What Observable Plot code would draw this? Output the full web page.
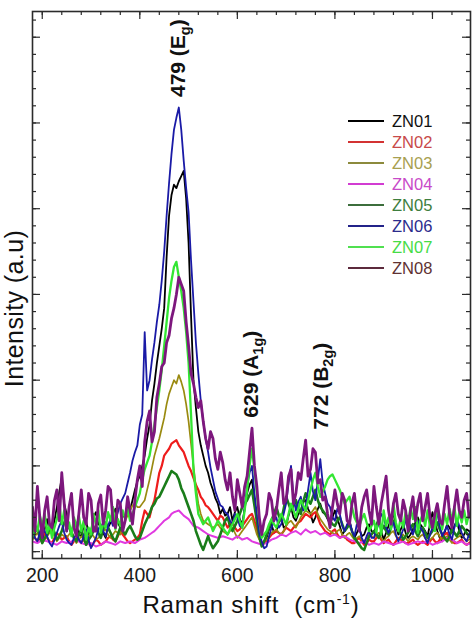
<!DOCTYPE html>
<html>
<head>
<meta charset="utf-8">
<script src="https://cdn.jsdelivr.net/npm/d3@7"></script>
<script src="https://cdn.jsdelivr.net/npm/@observablehq/plot@0.6"></script>
<style>
  html, body { margin: 0; padding: 0; background: #fff; }
  #chart { width: 474px; height: 621px; }
  svg text { font-family: "Liberation Sans", Arial, sans-serif; }
</style>
</head>
<body>
<div id="chart"></div>
<script>
// Raman shift sampling grid (cm^-1), 180 to 1080 every 5
const shifts = d3.range(180, 1081, 5);

// Intensities (a.u.), one row of 20 samples per 100 cm^-1
const zn01 = [
  0.8,1.1,1.4,0.7,0.6,1.3,1.9,1.2,1.1,1.8, 2.6,3.5,4.3,2.8,2.2,1.4,1.0,1.9,1.6,1.0,
  0.9,1.5,1.8,1.0,1.2,2.0,2.3,1.6,1.5,1.1, 0.8,1.4,1.7,2.2,2.5,1.7,1.4,2.1,2.0,2.6,
  2.4,3.0,3.6,4.1,4.4,5.0,5.6,6.6,7.4,8.8, 9.8,11.0,12.0,13.0,14.2,17.2,19.6,20.8,21.4,21.2,
  21.6,21.9,22.2,20.6,18.0,13.8,10.0,8.4,7.0,6.2, 5.6,5.0,4.6,4.0,3.6,3.1,2.8,2.2,2.5,2.1,
  2.2,2.6,1.8,2.3,2.6,1.9,1.6,2.5,3.4,3.9, 4.2,3.0,1.8,0.9,0.4,0.6,0.8,1.3,1.6,1.1,
  1.2,1.7,2.0,1.4,1.5,2.1,2.6,2.0,1.8,2.2, 2.4,2.9,3.0,2.5,2.2,1.7,2.0,2.5,2.8,2.3,
  2.2,1.9,1.6,2.0,2.4,1.9,1.5,1.0,1.2,1.5, 1.8,1.2,0.8,1.1,1.4,0.9,1.0,1.4,1.6,1.2,
  1.1,1.6,1.9,1.2,0.7,1.1,1.5,1.9,2.2,1.5, 1.0,1.3,1.6,1.1,0.8,1.0,1.3,1.7,2.0,1.6,
  1.4,1.2,0.9,1.6,2.3,1.7,1.2,0.8,0.6,1.1, 1.6,1.4,1.1,1.5,1.8,1.2,0.8,1.0,1.3,1.2,
  1.0
];
const zn02 = [
  1.0,0.8,0.6,0.9,1.2,1.0,0.8,0.6,0.5,0.8, 1.1,0.9,0.7,0.8,0.9,0.6,0.4,0.6,0.8,0.7,
  0.5,0.7,0.9,0.5,0.3,0.5,0.7,0.6,0.4,0.5, 0.6,0.8,0.9,0.7,0.6,0.9,1.2,1.0,0.8,0.6,
  0.5,0.6,0.7,0.8,1.0,1.8,2.4,2.2,2.0,2.6, 3.0,3.8,4.6,5.0,5.6,5.8,6.0,6.3,6.4,6.5,
  6.2,6.0,5.8,5.4,5.0,4.7,4.3,3.9,3.6,3.2, 3.0,2.7,2.6,2.4,2.2,2.0,1.8,2.1,2.0,1.7,
  1.4,1.6,1.7,1.4,1.2,1.3,1.5,1.7,1.9,2.1, 2.2,1.8,1.3,0.8,0.4,0.5,0.6,0.8,1.0,1.1,
  1.2,1.1,1.0,1.2,1.4,1.3,1.2,1.4,1.5,1.7, 1.8,2.0,2.2,2.1,2.0,2.2,2.3,2.0,1.6,1.4,
  1.2,1.1,1.0,1.2,1.3,1.0,0.8,0.9,0.9,0.7, 0.6,0.5,0.5,0.7,0.8,0.6,0.4,0.5,0.7,0.6,
  0.6,0.8,0.9,0.7,0.5,0.6,0.7,0.5,0.4,0.6, 0.8,0.7,0.6,0.5,0.5,0.6,0.7,0.5,0.4,0.5,
  0.6,0.5,0.4,0.6,0.8,0.6,0.5,0.7,0.9,1.0, 1.1,0.8,0.6,0.5,0.5,0.6,0.7,0.5,0.4,0.5,
  0.6
];
const zn03 = [
  0.7,0.9,1.1,0.8,0.5,0.7,0.9,1.1,1.3,0.9, 0.6,0.8,1.0,0.9,0.8,1.0,1.2,0.8,0.5,0.7,
  0.9,0.7,0.6,0.9,1.1,0.9,0.7,0.8,1.0,1.2, 1.3,1.0,0.8,1.0,1.2,1.1,1.0,1.4,1.8,2.1,
  2.4,2.7,2.8,2.6,2.6,2.8,3.0,3.6,4.2,4.9, 5.6,6.1,6.6,7.2,7.8,8.6,9.2,9.6,10.0,9.8,
  10.3,9.9,9.4,8.6,7.6,6.3,5.0,3.8,2.8,2.2, 1.8,1.7,1.6,1.5,1.4,1.5,1.6,1.4,1.2,1.1,
  1.0,1.2,1.4,1.1,0.8,1.0,1.2,1.4,1.6,1.8, 2.0,1.5,1.0,0.7,0.5,0.6,0.7,0.9,1.1,1.2,
  1.3,1.1,1.0,1.2,1.5,1.7,1.8,1.6,1.4,1.7, 2.0,2.2,2.4,2.3,2.2,2.4,2.6,2.2,1.9,1.7,
  1.5,1.3,1.2,1.1,1.0,1.2,1.3,1.0,0.8,1.0, 1.1,0.9,0.7,0.8,0.9,0.7,0.6,0.8,1.0,0.9,
  0.8,1.0,1.1,0.8,0.6,0.8,0.9,1.1,1.2,0.9, 0.7,0.9,1.0,0.8,0.6,0.8,0.9,0.8,0.7,0.9,
  1.0,0.8,0.6,0.7,0.8,1.0,1.1,0.9,0.7,0.8, 0.9,0.7,0.5,0.7,0.8,0.9,1.0,0.8,0.6,0.7,
  0.8
];
const zn04 = [
  0.6,0.55,0.5,0.6,0.7,0.65,0.6,0.55,0.5,0.45, 0.4,0.5,0.6,0.55,0.5,0.55,0.6,0.65,0.7,0.6,
  0.5,0.45,0.4,0.45,0.5,0.4,0.3,0.35,0.4,0.5, 0.6,0.55,0.5,0.45,0.4,0.5,0.6,0.55,0.5,0.55,
  0.6,0.55,0.5,0.6,0.7,0.75,0.8,0.9,1.0,1.1, 1.2,1.35,1.5,1.65,1.8,1.9,2.0,2.2,2.3,2.35,
  2.4,2.25,2.1,2.0,1.9,1.7,1.5,1.45,1.4,1.3, 1.2,1.1,1.0,0.95,0.9,0.85,0.8,0.85,0.9,0.85,
  0.8,0.75,0.7,0.8,0.9,0.8,0.7,0.75,0.8,0.7, 0.6,0.55,0.5,0.45,0.4,0.45,0.5,0.6,0.7,0.75,
  0.8,0.9,1.0,0.95,0.9,1.0,1.1,1.15,1.2,1.1, 1.0,1.15,1.3,1.2,1.1,1.15,1.2,1.1,1.0,1.05,
  1.1,1.0,0.9,0.95,1.0,0.9,0.8,0.85,0.9,0.8, 0.7,0.65,0.6,0.55,0.5,0.55,0.6,0.5,0.4,0.45,
  0.5,0.45,0.4,0.5,0.6,0.55,0.5,0.45,0.4,0.45, 0.5,0.55,0.6,0.5,0.4,0.45,0.5,0.55,0.6,0.55,
  0.5,0.55,0.6,0.5,0.4,0.45,0.5,0.55,0.6,0.7, 0.8,0.75,0.7,0.6,0.5,0.55,0.6,0.5,0.4,0.45,
  0.5
];
const zn05 = [
  0.8,1.2,1.4,0.9,0.5,0.8,1.0,1.4,1.6,1.1, 0.7,0.9,1.2,1.7,2.0,1.5,1.1,0.8,0.6,1.0,
  1.3,0.8,0.4,0.7,0.9,1.2,1.5,1.1,0.8,1.3, 1.7,1.4,1.1,0.8,0.6,1.0,1.4,1.2,1.0,1.3,
  1.5,1.2,0.9,0.7,0.8,1.2,1.6,1.9,2.2,2.6, 2.8,3.1,3.2,3.5,3.8,4.1,4.4,4.7,4.6,4.5,
  4.2,3.7,3.4,3.0,2.6,2.2,1.8,1.2,0.8,0.4, 0.1,0.5,0.9,0.5,0.2,0.4,0.6,1.0,1.4,1.8,
  2.0,1.5,1.2,1.5,1.8,2.2,2.6,2.8,3.0,3.3, 3.6,2.7,1.8,0.9,0.3,0.6,1.0,1.4,1.8,2.2,
  2.6,2.1,1.8,2.5,3.2,2.8,2.4,2.7,3.0,2.5, 2.2,2.9,3.4,3.0,2.8,3.2,3.6,3.0,2.6,2.4,
  2.2,2.0,1.8,1.6,1.5,1.8,2.0,1.6,1.2,1.4, 1.6,1.2,0.8,0.6,0.4,0.2,0.1,0.5,0.9,1.0,
  1.2,1.0,0.8,1.2,1.5,1.2,1.0,1.4,1.8,1.5, 1.3,1.0,0.7,0.9,1.1,1.4,1.6,1.2,0.9,1.2,
  1.4,1.1,0.8,1.0,1.2,1.5,1.7,1.3,1.0,0.8, 0.6,0.9,1.3,1.1,0.9,1.2,1.5,1.3,1.1,0.9,
  0.8
];
const zn06 = [
  1.2,0.8,0.6,1.1,1.5,1.2,0.9,0.5,0.3,0.7, 1.1,1.5,1.8,1.1,0.7,0.5,0.4,0.8,1.0,0.7,
  0.5,0.9,1.3,0.7,0.2,0.5,0.8,1.3,1.6,1.2, 0.9,1.5,1.9,1.5,1.8,2.3,2.8,3.1,3.4,4.0,
  4.6,5.3,5.8,6.2,7.4,8.0,12.8,9.4,10.0,11.2, 12.2,13.4,14.4,15.8,17.5,19.6,21.5,23.2,24.6,25.3,
  25.9,24.6,22.8,21.2,19.8,17.0,14.6,12.2,10.4,8.8, 7.6,6.6,5.8,4.9,4.2,3.5,3.1,2.7,2.6,2.3,
  2.2,1.8,1.6,2.2,2.0,1.5,1.4,2.6,3.8,4.6, 5.0,3.4,2.2,1.1,0.6,0.2,0.3,0.9,1.4,1.8,
  2.0,1.4,1.6,2.2,2.8,4.0,5.0,3.2,2.4,2.9, 3.2,2.4,2.6,3.6,4.6,3.5,3.0,4.2,5.4,4.0,
  3.4,2.8,2.6,2.0,1.8,2.5,2.2,1.5,1.2,1.6, 1.8,1.2,0.9,1.6,1.4,0.8,0.5,0.9,1.2,0.8,
  0.8,1.3,1.6,2.2,2.0,1.4,1.1,1.5,1.7,1.0, 0.6,0.9,1.3,1.8,2.1,1.4,1.0,1.5,1.8,1.4,
  1.2,0.8,0.5,1.0,1.4,1.9,2.2,1.5,0.9,1.2, 1.5,1.0,0.7,1.4,1.9,1.5,1.1,0.8,0.6,1.0,
  1.3
];
const zn07 = [
  0.9,1.6,1.2,2.1,1.5,2.2,1.1,1.6,0.8,1.4, 1.9,2.8,1.6,2.4,1.2,1.7,0.9,2.0,1.4,2.1,
  1.2,1.8,0.7,1.4,1.0,2.2,1.6,2.4,1.1,1.7, 1.4,2.3,1.8,2.6,1.3,1.9,1.5,2.4,1.9,2.5,
  1.8,2.2,2.6,3.0,3.4,4.2,4.8,5.2,5.6,6.4, 7.4,8.4,9.4,10.6,12.0,13.4,14.8,15.8,16.6,16.9,
  16.0,15.2,14.2,12.8,11.0,8.0,4.8,3.4,2.2,1.9, 1.6,1.8,2.0,1.6,1.2,1.5,1.8,1.6,1.4,1.2,
  1.0,1.3,1.6,1.9,2.2,1.8,1.4,2.4,3.6,5.0, 6.0,4.8,3.4,1.8,0.8,1.0,1.2,1.6,1.9,1.6,
  1.4,1.8,2.2,1.9,1.6,2.2,2.8,2.4,2.0,2.5, 3.0,2.7,2.4,3.0,3.6,4.2,4.6,3.8,3.2,3.5,
  3.8,4.2,4.4,4.5,4.2,3.9,3.6,3.2,2.8,3.0, 3.2,2.6,2.0,1.7,1.5,1.9,2.2,1.7,1.2,1.5,
  1.8,1.1,2.2,1.0,2.4,1.5,2.0,1.3,2.8,1.7, 1.2,2.0,1.4,2.3,1.6,2.6,1.9,2.6,1.1,1.8,
  2.2,1.5,2.4,1.4,1.9,1.2,2.7,2.0,1.3,2.2, 1.6,2.5,1.8,2.6,1.5,2.3,1.7,2.4,1.6,2.2,
  2.1
];
const zn08 = [
  2.6,1.2,3.8,2.0,0.8,2.4,3.2,1.6,1.4,3.0, 3.6,1.8,4.6,2.8,1.2,2.6,3.4,1.4,0.9,2.2,
  3.6,2.0,1.6,3.4,3.0,1.2,1.2,2.8,3.3,1.6, 2.4,3.8,3.6,1.8,1.4,3.0,2.8,1.2,1.8,3.2,
  2.4,1.6,3.0,4.2,5.0,3.8,6.4,7.6,8.2,6.4, 7.0,9.0,9.8,10.8,11.0,12.2,12.6,13.6,14.2,15.0,
  16.0,15.6,15.2,13.4,12.0,10.4,9.8,9.0,8.4,8.8, 7.6,6.6,6.0,7.0,6.6,5.4,4.8,5.8,5.2,4.2,
  3.6,4.6,3.2,2.4,4.2,3.4,2.6,3.8,4.4,5.8, 7.2,5.0,3.8,2.0,1.0,1.8,2.2,3.4,3.0,1.8,
  2.4,3.6,4.6,2.8,3.0,4.4,4.8,2.8,3.4,4.6, 4.2,5.4,6.5,4.4,4.8,6.0,5.8,4.0,4.2,3.0,
  3.2,2.2,1.4,2.6,3.6,2.8,2.2,3.4,3.0,1.8, 1.6,2.8,3.4,2.0,1.2,2.6,3.2,3.6,2.4,1.6,
  3.8,2.6,1.6,2.8,3.6,4.4,2.4,1.6,2.8,3.4, 2.2,1.8,3.0,2.4,1.2,2.4,3.2,1.8,2.8,3.4,
  1.8,2.6,3.4,2.0,1.4,2.2,2.8,1.8,1.6,2.8, 3.8,2.2,1.4,2.6,3.6,2.4,2.0,3.0,3.4,2.0,
  2.2
];

const seriesNames = ["ZN01", "ZN02", "ZN03", "ZN04", "ZN05", "ZN06", "ZN07", "ZN08"];
const seriesValues = [zn01, zn02, zn03, zn04, zn05, zn06, zn07, zn08];
const lineColors = ["#000000", "#ee1c1c", "#9a8a10", "#e03ae0", "#1a7d1a", "#1a1aa6", "#33e633", "#7d177d"];
const lineWidths = [1.8, 2.2, 1.7, 2.0, 2.6, 1.8, 2.3, 2.8];
const legendLineColors = ["#000000", "#d33232", "#8c8a3c", "#d23cd2", "#3c6e3c", "#232389", "#50e050", "#5c2a3c"];
const legendTextColors = ["#111111", "#c84a4a", "#a8a050", "#c84ac8", "#3e7e3e", "#2c2c8c", "#46dc46", "#603232"];

const xMajor = [200, 400, 600, 800, 1000];
const xMinor = [200, 240, 280, 320, 360, 400, 440, 480, 520, 560, 600, 640, 680, 720, 760, 800, 840, 880, 920, 960, 1000, 1040];
const yMajor = [0, 5, 10, 15, 20, 25, 30];
const yMinor = [0, 1, 2, 3, 4, 5, 6, 7, 8, 9, 10, 11, 12, 13, 14, 15, 16, 17, 18, 19, 20, 21, 22, 23, 24, 25, 26, 27, 28, 29, 30, 31];

// Labelled Raman modes
const peakShifts = [479, 629, 772];
const peakMode = ["E", "A", "B"];
const peakSub = ["g", "1g", "2g"];

const W = 474, H = 621;
const mL = 32, mR = 4, mT = 11, mB = 63;
const fw = W - mL - mR, fh = H - mT - mB;
const axisColor = "#2b2b2b";

const lineMarks = seriesValues.map((vals, k) =>
  Plot.line(shifts.map((x, i) => ({x, y: vals[i]})), {
    x: "x", y: "y", stroke: lineColors[k], strokeWidth: lineWidths[k],
    strokeLinejoin: "round", clip: true
  })
);

const chart = Plot.plot({
  width: W, height: H,
  marginLeft: mL, marginRight: mR, marginTop: mT, marginBottom: mB,
  style: {background: "#fff", fontFamily: "Liberation Sans, Arial, sans-serif"},
  x: {domain: [180, 1078]},
  y: {domain: [-0.4, 31.5], axis: null},
  marks: [
    ...lineMarks,
    // inward ticks on all four sides
    Plot.tickX(xMajor, {x: d => d, insetTop: fh - 8, stroke: axisColor, strokeWidth: 1.2}),
    Plot.tickX(xMajor, {x: d => d, insetBottom: fh - 8, stroke: axisColor, strokeWidth: 1.2}),
    Plot.tickX(xMinor, {x: d => d, insetTop: fh - 4, stroke: axisColor, strokeWidth: 1.2}),
    Plot.tickX(xMinor, {x: d => d, insetBottom: fh - 4, stroke: axisColor, strokeWidth: 1.2}),
    Plot.tickY(yMajor, {y: d => d, insetRight: fw - 8, stroke: axisColor, strokeWidth: 1.2}),
    Plot.tickY(yMajor, {y: d => d, insetLeft: fw - 8, stroke: axisColor, strokeWidth: 1.2}),
    Plot.tickY(yMinor, {y: d => d, insetRight: fw - 4, stroke: axisColor, strokeWidth: 1.2}),
    Plot.tickY(yMinor, {y: d => d, insetLeft: fw - 4, stroke: axisColor, strokeWidth: 1.2}),
    Plot.frame({stroke: axisColor, strokeWidth: 1.6}),
    Plot.axisX(xMajor, {tickSize: 0, tickPadding: 10, fontSize: 19.5, label: null,
      color: "#1a1a1a", tickFormat: d => `${d}`})
  ]
});

document.getElementById("chart").appendChild(chart);

const sx = chart.scale("x"), sy = chart.scale("y");
const svg = d3.select(chart);

// Mode annotations, rotated, just above the highest trace near each peak
peakShifts.forEach((p, k) => {
  let top = 0;
  shifts.forEach((x, i) => {
    if (Math.abs(x - p) <= 35) seriesValues.forEach(v => { top = Math.max(top, v[i]); });
  });
  const px = sx.apply(p) + 7;
  const py = sy.apply(top) - 10;
  const t = svg.append("text")
    .attr("transform", `translate(${px},${py}) rotate(-90)`)
    .attr("font-size", 21).attr("font-weight", "bold").attr("fill", "#111")
    .attr("text-anchor", "start");
  t.append("tspan").text(`${p}\u00a0(${peakMode[k]}`);
  t.append("tspan").attr("font-size", 14.5).attr("dy", 5).text(peakSub[k]);
  t.append("tspan").attr("dy", -5).text(")");
});

// Legend
const lg = svg.append("g").attr("text-anchor", "start");
seriesNames.forEach((name, k) => {
  const y = 121 + k * 21;
  lg.append("line").attr("x1", 348).attr("x2", 384).attr("y1", y).attr("y2", y)
    .attr("stroke", legendLineColors[k]).attr("stroke-width", 2.2);
  lg.append("text").attr("x", 392).attr("y", y).attr("dy", "0.36em")
    .attr("text-anchor", "start")
    .attr("font-size", 16.5).attr("fill", legendTextColors[k]).text(name);
});

// Axis titles
const xt = svg.append("text")
  .attr("x", mL + fw / 2).attr("y", 613).attr("text-anchor", "middle")
  .attr("font-size", 24).attr("letter-spacing", 0.8).attr("fill", "#111");
xt.append("tspan").text("Raman shift\u00a0\u00a0(cm");
xt.append("tspan").attr("font-size", 14).attr("dy", -9).text("-1");
xt.append("tspan").attr("dy", 9).text(")");

svg.append("text")
  .attr("transform", `translate(23,${mT + fh / 2 + 24}) rotate(-90)`)
  .attr("text-anchor", "middle").attr("font-size", 25).attr("letter-spacing", 0.4)
  .attr("fill", "#111")
  .text("Intensity (a.u)");
</script>
</body>
</html>
